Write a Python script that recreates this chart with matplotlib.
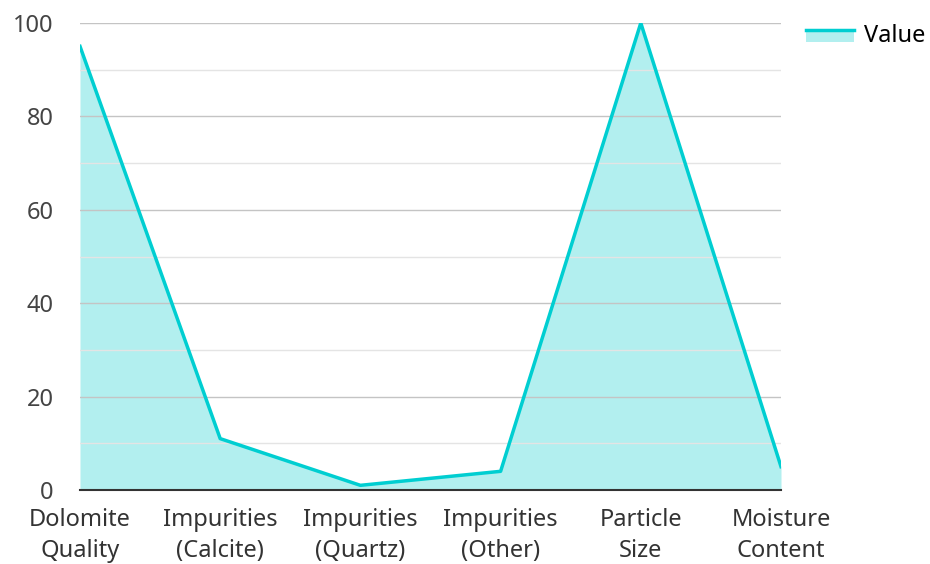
import matplotlib.pyplot as plt
from matplotlib.legend_handler import HandlerBase
from matplotlib.patches import Rectangle
from matplotlib.lines import Line2D

plt.rcParams['font.family'] = ['Noto Sans', 'DejaVu Sans']

categories = ['Dolomite\nQuality', 'Impurities\n(Calcite)', 'Impurities\n(Quartz)',
              'Impurities\n(Other)', 'Particle\nSize', 'Moisture\nContent']
values = [95, 11, 1, 4, 100, 5]

line_color = '#00CED1'
fill_color = '#B2EFEF'


class AreaHandler(HandlerBase):
    def create_artists(self, legend, orig_handle, xdescent, ydescent,
                       width, height, fontsize, trans):
        rect = Rectangle((-xdescent, -ydescent), width, height * 0.75,
                         facecolor=fill_color, edgecolor='none', transform=trans)
        ln = Line2D([-xdescent, -xdescent + width], [-ydescent + height * 0.75] * 2,
                    color=line_color, lw=2.5, transform=trans)
        return [rect, ln]


fig = plt.figure(figsize=(9.3, 5.64), dpi=100)
ax = fig.add_axes([80 / 930, 74 / 564, 701 / 930, 467 / 564])

x = list(range(len(values)))
ax.fill_between(x, values, 0, color=fill_color, lw=0, zorder=1)
line, = ax.plot(x, values, color=line_color, lw=2.5, zorder=3, label='Value')

ax.set_xlim(0, len(values) - 1)
ax.set_ylim(0, 100)
ax.set_yticks([0, 20, 40, 60, 80, 100])
ax.set_yticks([10, 30, 50, 70, 90], minor=True)
ax.grid(axis='y', which='major', color='#c4c4c4', lw=1, zorder=1.5)
ax.grid(axis='y', which='minor', color='#e4e4e4', lw=1, zorder=1.5)
ax.set_xticks(x)
ax.set_xticklabels(categories, linespacing=1.38)
ax.tick_params(axis='both', which='both', length=0, labelsize=17, colors='#333333')
ax.tick_params(axis='x', pad=13)
ax.tick_params(axis='y', pad=19)
for lab in ax.get_yticklabels():
    lab.set_color('#444444')

for s in ['top', 'right', 'left']:
    ax.spines[s].set_visible(False)
ax.spines['bottom'].set_color('#333333')
ax.spines['bottom'].set_linewidth(1.5)
ax.spines['bottom'].set_zorder(4)

ax.legend([line], ['Value'], handler_map={Line2D: AreaHandler()},
          loc='upper left', bbox_to_anchor=(1.022, 1.018), frameon=False,
          fontsize=17, handlelength=2.03, handletextpad=0.42, borderaxespad=0)

fig.savefig('out.png', dpi=100)
